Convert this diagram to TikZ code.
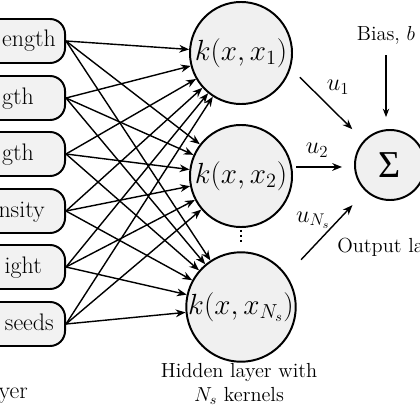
\documentclass[tikz,border=0pt]{standalone}
\usepackage{fontspec}
\newfontfamily\libser{Liberation Serif}
\usetikzlibrary{arrows.meta}
\begin{document}
\begin{tikzpicture}[x=0.025cm,y=-0.025cm,
 inbox/.style={draw, line width=1.4pt, fill=black!5, rounded corners=0.375cm, minimum width=3.25cm, minimum height=1.1cm, inner sep=0},
 kern/.style={circle, draw, line width=1.4pt, fill=black!6, minimum size=2.55cm, inner sep=0, font=\fontsize{20.5}{24}\selectfont},
 sumnode/.style={circle, draw, line width=1.4pt, fill=black!6, minimum size=1.75cm, inner sep=0, font=\libser\fontsize{27}{30}\selectfont},
 boxtxt/.style={anchor=base east, inner sep=0, font=\fontsize{17}{20}\selectfont},
 lbl/.style={inner sep=0, font=\fontsize{14.5}{17.5}\selectfont},
 ulbl/.style={inner sep=0, font=\fontsize{17}{20}\selectfont},
 arr/.style={-{Stealth[length=7pt,width=5.5pt]}, line width=1pt},
 thinarr/.style={-{Stealth[length=6pt,width=4.6pt]}, line width=0.8pt},
]
\useasboundingbox (0,0) rectangle (420,420);
\clip (0,0) rectangle (420,420);
% input boxes
\node[inbox] (i1) at (0,41) {};
\node[inbox] (i2) at (0,98) {};
\node[inbox] (i3) at (0,154) {};
\node[inbox] (i4) at (0,211) {};
\node[inbox] (i5) at (0,267) {};
\node[inbox] (i6) at (0,324) {};
\node[boxtxt] (t1) at (56,47) {ength};
\node[boxtxt] (t2) at (34,104) {gth};
\node[boxtxt] (t3) at (34,160) {gth};
\node[boxtxt] (t4) at (45,217) {nsity};
\node[boxtxt] (t5) at (42,273) {ight};
\node[boxtxt] (t6) at (54,330) {seeds};
\node[boxtxt] (tin) at (28,398) {yer};
% hidden layer
\node[kern] (k1) at (241,53) {$k(x,x_1)$};
\node[kern] (k2) at (241,176) {$k(x,x_2)$};
\node[kern] (k3) at (241,307) {$k(x,x_{N_s})$};
\draw[line width=1.3pt, dash pattern=on 1.3pt off 2.26pt] ([yshift=-1.4pt]k2.south) -- ([yshift=5pt]k3.north);
\node[lbl, align=center] (hid) at (239,384) {Hidden layer with\\$N_s$ kernels};
% output
\node[sumnode] (sig) at (390,165) {Σ};
\node[lbl] (bias) at (386,35) {Bias, $b$};
\node[lbl, anchor=base west] (out) at (337,252) {Output la};
% input -> hidden
\foreach \i in {1,...,6}{
  \foreach \k in {1,2,3}{
    \draw[arr] (i\i.east) -- (k\k);
  }
}
% hidden -> output
\draw[arr, shorten <=9.2pt, shorten >=11.4pt] (k1.-17) -- (sig.137);
\draw[arr, shorten <=2.8pt, shorten >=8.5pt] (k2.10) -- (k2.10 -| sig.west);
\draw[arr, shorten <=15pt, shorten >=13.5pt] (k3.35) -- (sig.227);
\draw[thinarr, shorten <=7.8pt, shorten >=8.5pt] (bias.south) -- (bias.south |- sig.north);
\node[ulbl] (u1) at (338,87) {$u_1$};
\node[ulbl] (u2) at (317,150) {$u_2$};
\node[ulbl] (u3) at (313,220) {$u_{N_s}$};
\end{tikzpicture}
\end{document}
